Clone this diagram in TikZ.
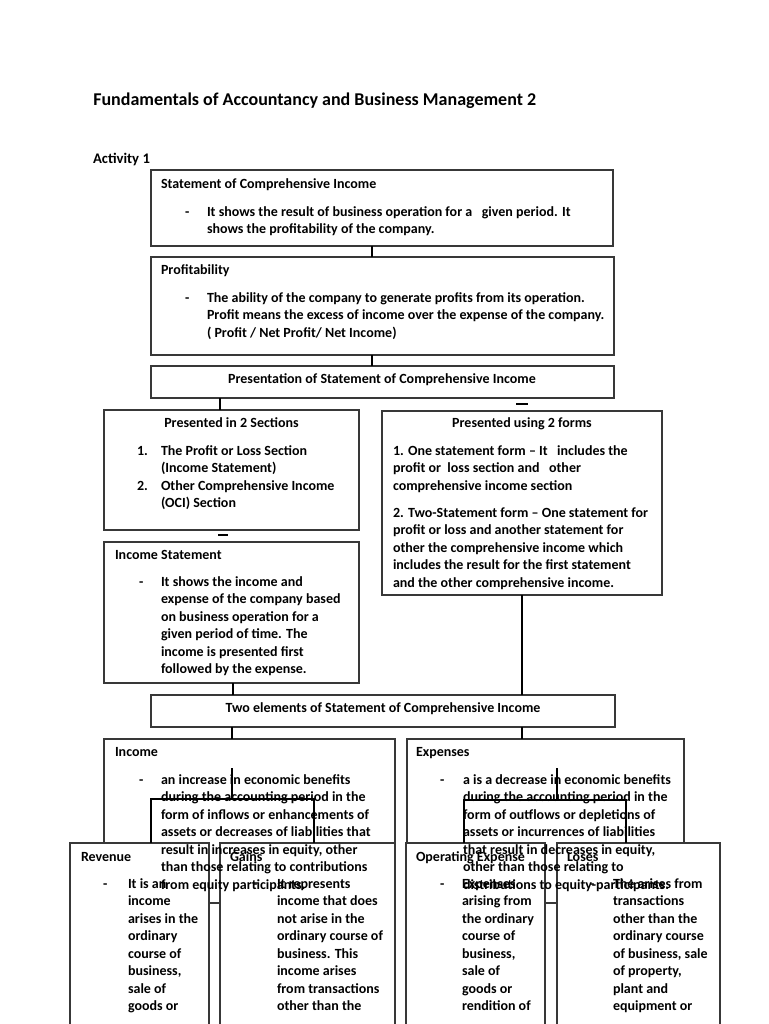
\documentclass[tikz,border=0pt]{standalone}
\usepackage{fontspec}
\setmainfont{Carlito}
\usetikzlibrary{calc}
\newcommand{\myfont}{\fontsize{10.5}{13.125}\selectfont\bfseries}
\newcommand{\ml}[1]{\begin{tabular}[t]{@{}l@{}}#1\end{tabular}}
\newcommand{\mybox}[5]{\node[box, minimum width=#4*0.75pt, minimum height=#5*0.75pt] (#1) at (#2,#3) {};}
\begin{document}
\begin{tikzpicture}[x=0.75pt,y=-0.75pt,
  box/.style={draw=black!78, line width=0.9pt, fill=white, inner sep=0pt, outer sep=0pt, anchor=north west},
  conn/.style={draw=black, line width=1.5pt},
  thin conn/.style={draw=black, line width=1.1pt},
  txt/.style={inner sep=0pt, outer sep=0pt, anchor=base west, font=\myfont},
  ctr/.style={inner sep=0pt, outer sep=0pt, anchor=base, font=\myfont}]
\useasboundingbox (0,0) rectangle (768,1024);
\clip (0,0) rectangle (768,1024);
\fill[white] (0,0) rectangle (768,1024);

% headings
\node[anchor=base west, inner sep=0pt, font=\fontsize{13.5}{16}\selectfont\bfseries] (title) at (93,105) {Fundamentals of Accountancy and Business Management 2};
\node[txt, font=\fontsize{11}{13.5}\selectfont\bfseries] (act) at (93,163) {Activity 1};

% boxes
\mybox{sci}{151}{170}{462}{76}
\mybox{prof}{151}{257}{463}{98}
\mybox{pres}{151}{366}{463}{32}
\mybox{sec}{104}{410}{255}{120}
\mybox{forms}{382}{411}{280}{184}
\mybox{incst}{104}{542}{255}{141}
\mybox{two}{151}{695}{464}{32}
\mybox{inc}{104}{739}{291}{164}
\mybox{exp}{407}{739}{277}{164}

% connector columns
\coordinate (x372) at (372,0);
\coordinate (x220) at (220,0);
\coordinate (x233) at (233,0);
\coordinate (x232) at (232,0);
\coordinate (x522) at (522,0);
\draw[conn] (x372 |- sci.south) -- (x372 |- prof.north);
\draw[conn] (x372 |- prof.south) -- (x372 |- pres.north);
\draw[conn] (x220 |- pres.south) -- (x220 |- sec.north);
\draw[conn] (x233 |- incst.south) -- (x233 |- two.north);
\draw[conn] (x522 |- forms.south) -- (x522 |- two.north);
\draw[conn] (x232 |- two.south) -- (x232 |- inc.north);
\draw[conn] (x522 |- two.south) -- (x522 |- exp.north);
\coordinate (d1a) at (516,404); \coordinate (d1b) at (528,404);
\draw[conn] (d1a) -- (d1b);
\coordinate (d2a) at (218,535); \coordinate (d2b) at (228,535);
\draw[conn] (d2a) -- (d2b);

% child boxes
\mybox{rev}{70}{843}{139}{260}
\mybox{gain}{220}{843}{175}{260}
\mybox{opx}{406}{843}{139}{260}
\mybox{los}{557}{843}{163}{260}

% inner connectors
\coordinate (incA) at (232,768); \coordinate (incB) at (232,799);
\draw[conn] (incA) -- (incB);
\draw[thin conn] ($(rev.north west)+(81,0)$) |- (incB) -| ($(gain.north west)+(94,0)$);
\coordinate (expA) at (557,768); \coordinate (expB) at (557,800);
\draw[conn] (expA) -- (expB);
\draw[thin conn] ($(opx.north west)+(58,0)$) |- (expB) -| ($(los.north west)+(69,0)$);

% texts: box 1
\node[txt] (t1) at (161,188) {Statement of Comprehensive Income};
\node[txt] (t1d) at (185,216) {-};
\node[txt] (t1b) at (207,216) {\ml{It shows the result of business operation for a\ \ \ given period. It\\shows the profitability of the company.}};
% box 2
\node[txt] (t2) at (161,274) {Profitability};
\node[txt] (t2d) at (185,302) {-};
\node[txt] (t2b) at (207,302) {\ml{The ability of the company to generate profits from its operation.\\Profit means the excess of income over the expense of the company.\\( Profit / Net Profit/ Net Income)}};
% box 3
\node[ctr] (t3) at (382,383) {Presentation of Statement of Comprehensive Income};
% box sections
\node[ctr] (t4) at (231.5,427) {Presented in 2 Sections};
\node[txt] (t4n) at (137,455) {\ml{1.\\\\2.}};
\node[txt] (t4b) at (161,455) {\ml{The Profit or Loss Section\\(Income Statement)\\Other Comprehensive Income\\(OCI) Section}};
% box forms
\node[ctr] (t5) at (522,427) {Presented using 2 forms};
\node[txt] (t5a) at (393,455) {\ml{1. One statement form -- It\ \ \ includes the\\profit or\ \ loss section and\ \ \ other\\comprehensive income section}};
\node[txt] (t5b) at (393,517) {\ml{2. Two-Statement form -- One statement for\\profit or loss and another statement for\\other the comprehensive income which\\includes the result for the first statement\\and the other comprehensive income.}};
% income statement
\node[txt] (t6) at (115,559) {Income Statement};
\node[txt] (t6d) at (139,586) {-};
\node[txt] (t6b) at (161,586) {\ml{It shows the income and\\expense of the company based\\on business operation for a\\given period of time. The\\income is presented first\\followed by the expense.}};
% two elements
\node[ctr] (t7) at (383,712) {Two elements of Statement of Comprehensive Income};
% income
\node[txt] (t8) at (115,756) {Income};
\node[txt] (t8d) at (139,784) {-};
\node[txt] (t8b) at (161,784) {\ml{an increase in economic benefits\\during the accounting period in the\\form of inflows or enhancements of\\assets or decreases of liabilities that\\result in increases in equity, other\\than those relating to contributions\\from equity participants.}};
% expenses
\node[txt] (t9) at (416,756) {Expenses};
\node[txt] (t9d) at (440,784) {-};
\node[txt] (t9b) at (463,784) {\ml{a is a decrease in economic benefits\\during the accounting period in the\\form of outflows or depletions of\\assets or incurrences of liabilities\\that result in decreases in equity,\\other than those relating to\\distributions to equity-participants.}};
% revenue
\node[txt] (t10) at (81,861) {Revenue};
\node[txt] (t10d) at (103,888) {-};
\node[txt] (t10b) at (128,888) {\ml{It is an\\income\\arises in the\\ordinary\\course of\\business,\\sale of\\goods or}};
% gains
\node[txt] (t11) at (230,861) {Gains};
\node[txt] (t11d) at (253,888) {-};
\node[txt] (t11b) at (277,888) {\ml{It represents\\income that does\\not arise in the\\ordinary course of\\business. This\\income arises\\from transactions\\other than the}};
% operating expense
\node[txt] (t12) at (416,861) {Operating Expense};
\node[txt] (t12d) at (440,888) {-};
\node[txt] (t12b) at (462,888) {\ml{Expenses\\arising from\\the ordinary\\course of\\business,\\sale of\\goods or\\rendition of}};
% loses
\node[txt] (t13) at (567,861) {Loses};
\node[txt] (t13d) at (590,888) {-};
\node[txt] (t13b) at (613,888) {\ml{The arises from\\transactions\\other than the\\ordinary course\\of business, sale\\of property,\\plant and\\equipment or}};
\end{tikzpicture}
\end{document}
